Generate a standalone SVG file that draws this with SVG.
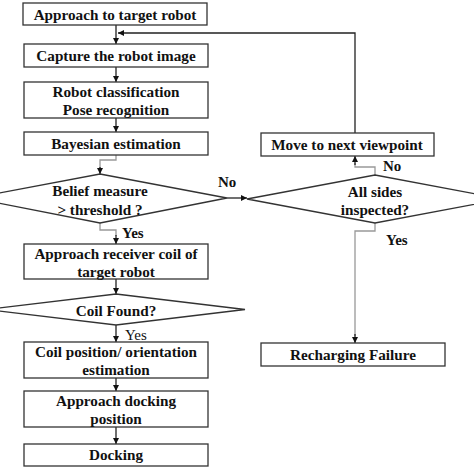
<svg xmlns="http://www.w3.org/2000/svg" width="474" height="474" viewBox="0 0 474 474">
<defs>
<marker id="ah" viewBox="0 0 10 10" refX="10" refY="5" markerWidth="6" markerHeight="6" orient="auto" markerUnits="userSpaceOnUse">
<path d="M0,0 L10,5 L0,10 z" fill="#111"/>
</marker>
</defs>
<style>
.box{fill:#fff;stroke:#333;stroke-width:1.3}
.t{font-family:"Liberation Serif","Times New Roman",serif;font-weight:bold;font-size:15.2px;fill:#111;text-anchor:middle}
.lab{font-family:"Liberation Serif","Times New Roman",serif;font-weight:bold;font-size:15px;fill:#111}
.c{fill:none;stroke:#222;stroke-width:1.3}
.g{fill:none;stroke:#999;stroke-width:1.3}
</style>
<rect width="474" height="474" fill="#fff"/>
<g id="connectors">
<path class="c" d="M116,25 V44" marker-end="url(#ah)"/>
<path class="c" d="M355,133 V33 H118" marker-end="url(#ah)"/>
<path class="c" d="M116,67 V82" marker-end="url(#ah)"/>
<path class="c" d="M116,118 V132" marker-end="url(#ah)"/>
<path class="g" d="M116,155 V160 H100 V168"/>
<path class="c" d="M100,167 V174" marker-end="url(#ah)"/>
<path class="g" d="M100,223 V230 H116 V236"/>
<path class="c" d="M116,235 V244" marker-end="url(#ah)"/>
<path class="c" d="M116,279 V294" marker-end="url(#ah)"/>
<path class="c" d="M116,325 V342" marker-end="url(#ah)"/>
<path class="c" d="M116,378 V391" marker-end="url(#ah)"/>
<path class="c" d="M116,427 V444" marker-end="url(#ah)"/>
<path class="c" d="M227,198 H247" marker-end="url(#ah)"/>
<path class="g" d="M375,175 V167 H355 V163"/>
<path class="c" d="M355,165 V156" marker-end="url(#ah)"/>
<path class="g" d="M375,223 V231 H355 V336"/>
<path class="c" d="M355,334 V343" marker-end="url(#ah)"/>
<text class="lab" x="218" y="187">No</text>
<text class="lab" x="122" y="238">Yes</text>
<text class="lab" x="125" y="340" style="font-weight:normal">Yes</text>
<text class="lab" x="383" y="171">No</text>
<text class="lab" x="386" y="245">Yes</text>
</g>
<g id="n1"><rect class="box" x="23" y="3" width="184" height="22"/><text class="t" x="115" y="19.5">Approach to target robot</text></g>
<g id="n2"><rect class="box" x="24" y="44" width="184" height="23"/><text class="t" x="116" y="61">Capture the robot image</text></g>
<g id="n3"><rect class="box" x="24" y="82" width="184" height="36"/><text class="t" x="116" y="97">Robot classification</text><text class="t" x="116" y="115">Pose recognition</text></g>
<g id="n4"><rect class="box" x="24" y="132" width="184" height="23"/><text class="t" x="116" y="149">Bayesian estimation</text></g>
<g id="d1"><polygon class="box" points="100,174 227,198 100,223 -27,198"/><text class="t" x="100" y="196">Belief measure</text><text class="t" x="100" y="215">&gt; threshold ?</text></g>
<g id="n5"><rect class="box" x="24" y="244" width="184" height="35"/><text class="t" x="116" y="259">Approach receiver coil of</text><text class="t" x="116" y="277">target robot</text></g>
<g id="d2"><polygon class="box" points="116,294 245,309.5 116,325 -13,309.5"/><text class="t" x="116" y="316">Coil Found?</text></g>
<g id="n6"><rect class="box" x="24" y="342" width="184" height="36"/><text class="t" x="116" y="357">Coil position/ orientation</text><text class="t" x="116" y="375">estimation</text></g>
<g id="n7"><rect class="box" x="24" y="391" width="184" height="36"/><text class="t" x="116" y="406">Approach docking</text><text class="t" x="116" y="424">position</text></g>
<g id="n8"><rect class="box" x="24" y="444" width="184" height="22"/><text class="t" x="116" y="460">Docking</text></g>
<g id="n9"><rect class="box" x="261" y="133" width="173" height="23"/><text class="t" x="347" y="150">Move to next viewpoint</text></g>
<g id="d3"><polygon class="box" points="375,175 503,199 375,223 247,199"/><text class="t" x="375" y="197">All sides</text><text class="t" x="375" y="215">inspected?</text></g>
<g id="n10"><rect class="box" x="261" y="343" width="184" height="23"/><text class="t" x="353" y="360">Recharging Failure</text></g>
</svg>
